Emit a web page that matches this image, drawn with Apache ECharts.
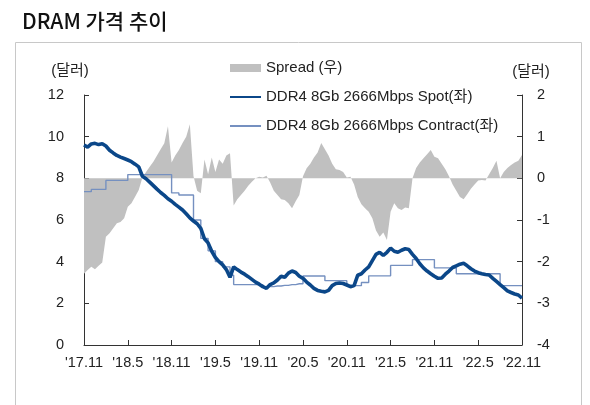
<!DOCTYPE html>
<html><head><meta charset="utf-8">
<script src="https://cdn.jsdelivr.net/npm/echarts@6/dist/echarts.min.js"></script>
<style>html,body{margin:0;padding:0;background:#fff}#c{width:590px;height:405px}</style>
</head><body><div id="c"></div>
<script>
const FONT = "'Liberation Sans','Noto Sans CJK KR',sans-serif";

// half-month dates from 2017-11 to 2022-11
const dates = [];
for (let i = 0; i < 121; i++) {
  const m = Math.floor(i / 2);
  const yr = 2017 + Math.floor((10 + m) / 12);
  const mo = (10 + m) % 12 + 1;
  dates.push(yr + '-' + String(mo).padStart(2, '0') + (i % 2 ? '-16' : '-01'));
}
const tickLabels = ["'17.11","'18.5","'18.11","'19.5","'19.11","'20.5","'20.11","'21.5","'21.11","'22.5","'22.11"];

const spot = [
  9.60,9.50,9.65,9.68,9.62,9.66,9.55,9.35,9.22,9.10,9.02,8.95,
  8.88,8.80,8.68,8.55,8.10,7.98,7.82,7.65,7.48,7.32,7.18,7.02,
  6.90,6.75,6.62,6.48,6.30,6.10,5.95,5.82,5.60,5.10,4.90,4.50,
  4.20,4.00,3.85,3.62,3.25,3.75,3.62,3.50,3.40,3.28,3.15,3.02,
  2.92,2.80,2.72,2.90,2.98,3.12,3.30,3.25,3.45,3.55,3.48,3.30,
  3.20,3.02,2.88,2.72,2.62,2.58,2.55,2.62,2.85,2.95,2.98,2.95,
  2.88,2.80,2.85,3.35,3.42,3.60,3.75,4.05,4.35,4.45,4.30,4.45,
  4.65,4.50,4.45,4.55,4.62,4.58,4.35,4.15,3.90,3.70,3.55,3.42,
  3.30,3.20,3.22,3.40,3.55,3.72,3.80,3.88,3.92,3.80,3.66,3.55,
  3.47,3.42,3.38,3.36,3.20,3.05,2.90,2.75,2.60,2.52,2.45,2.40,
  2.25
];
const contract = [
  7.36,7.36,7.47,7.47,7.47,7.47,7.90,7.90,7.90,7.90,7.90,7.90,
  8.18,8.18,8.18,8.18,8.18,8.18,8.18,8.18,8.18,8.18,8.18,8.18,
  7.30,7.30,7.20,7.20,7.20,7.20,6.00,6.00,5.12,5.12,4.52,4.52,
  4.00,4.00,3.75,3.75,3.35,2.90,2.90,2.90,2.90,2.90,2.90,2.90,
  2.90,2.80,2.80,2.80,2.83,2.83,2.86,2.86,2.90,2.90,2.94,2.94,
  3.31,3.31,3.31,3.31,3.31,3.31,3.09,3.09,3.09,3.09,3.09,3.09,
  2.85,2.85,2.85,2.85,3.00,3.00,3.32,3.32,3.32,3.32,3.32,3.32,
  3.82,3.82,3.82,3.82,3.82,3.82,4.10,4.10,4.10,4.10,4.10,4.10,
  3.70,3.70,3.70,3.70,3.70,3.70,3.42,3.42,3.42,3.42,3.42,3.42,
  3.42,3.42,3.42,3.42,3.42,3.42,2.85,2.85,2.85,2.85,2.85,2.85,
  2.85
];
const spread = [
  -2.29,-2.20,-2.12,-2.18,-2.10,-2.02,-1.40,-1.32,-1.20,-1.08,-1.05,-0.96,
  -0.68,-0.60,-0.44,-0.28,0.02,0.15,0.28,0.40,0.55,0.70,0.84,1.25,
  0.38,0.55,0.68,0.85,1.00,1.30,0.05,-0.30,-0.36,0.45,0.10,0.50,
  0.15,0.45,0.35,0.55,0.60,-0.65,-0.50,-0.40,-0.30,-0.18,-0.08,0.00,
  0.04,0.02,0.06,-0.10,-0.30,-0.40,-0.50,-0.52,-0.60,-0.72,-0.55,-0.40,
  0.05,0.24,0.35,0.50,0.62,0.85,0.70,0.55,0.35,0.22,0.20,0.15,
  0.02,0.04,-0.15,-0.45,-0.62,-0.72,-0.80,-0.96,-1.25,-1.40,-1.30,-1.48,
  -0.80,-0.60,-0.72,-0.76,-0.70,-0.72,0.00,0.25,0.38,0.48,0.58,0.68,
  0.52,0.48,0.35,0.22,0.05,-0.15,-0.30,-0.45,-0.50,-0.38,-0.25,-0.15,
  -0.05,-0.04,-0.05,0.10,0.25,0.42,0.00,0.15,0.25,0.32,0.38,0.42,
  0.56
];

const names = ['Spread (우)', 'DDR4 8Gb 2666Mbps Spot(좌)', 'DDR4 8Gb 2666Mbps Contract(좌)'];
const tickShow = (idx) => idx % 12 === 0;
const axisColor = '#333';
const SPOT_C = '#0b4789', CON_C = '#7590c0', SPR_C = '#c0c0c0';

const chart = echarts.init(document.getElementById('c'), null, {renderer: 'canvas'});
chart.setOption({
  animation: false,
  backgroundColor: '#fff',
  title: {
    text: 'DRAM 가격 추이', left: 17, top: 6,
    textStyle: {fontFamily: "'Noto Sans CJK KR',sans-serif", fontSize: 21, fontWeight: 500, color: '#111'}
  },
  graphic: [
    {type: 'rect', silent: true, shape: {x: 15.5, y: 42.5, width: 566, height: 380},
     style: {fill: 'none', stroke: '#c8c8c8', lineWidth: 1}},
    {type: 'text', silent: true, x: 70, y: 71,
     style: {text: '(달러)', fontSize: 15, fontFamily: FONT, fill: '#222', align: 'center', verticalAlign: 'middle'}},
    {type: 'text', silent: true, x: 531, y: 72,
     style: {text: '(달러)', fontSize: 15, fontFamily: FONT, fill: '#222', align: 'center', verticalAlign: 'middle'}}
  ],
  legend: {
    orient: 'vertical', left: 229, top: 60.5, padding: 0, itemWidth: 31, itemHeight: 8, itemGap: 14,
    textStyle: {fontFamily: FONT, fontSize: 15, color: '#222'},
    data: [
      {name: names[0], icon: 'rect'},
      {name: names[1], itemStyle: {opacity: 0}},
      {name: names[2], itemStyle: {opacity: 0}}
    ]
  },
  grid: {left: 84, right: 68, top: 95, bottom: 60, containLabel: false},
  xAxis: {
    type: 'category', data: dates, boundaryGap: false,
    axisLine: {lineStyle: {color: axisColor, width: 1}},
    axisTick: {inside: true, length: 5, interval: tickShow, lineStyle: {color: axisColor}},
    axisLabel: {
      interval: tickShow, margin: 11, fontFamily: FONT, fontSize: 14.5, color: '#222',
      formatter: (v, idx) => tickLabels[idx / 12] || ''
    },
    splitLine: {show: false}
  },
  yAxis: [
    {type: 'value', min: 0, max: 12, interval: 2, position: 'left',
     axisLine: {show: true, lineStyle: {color: axisColor}},
     axisTick: {show: true, inside: true, length: 5, lineStyle: {color: axisColor}},
     axisLabel: {margin: 20, fontFamily: FONT, fontSize: 14.5, color: '#222'},
     splitLine: {show: false}},
    {type: 'value', min: -4, max: 2, interval: 1, position: 'right',
     axisLine: {show: true, lineStyle: {color: axisColor}},
     axisTick: {show: true, inside: true, length: 5, lineStyle: {color: axisColor}},
     axisLabel: {margin: 15, fontFamily: FONT, fontSize: 14.5, color: '#222', align: 'left'},
     splitLine: {show: false}}
  ],
  series: [
    {name: names[0], type: 'line', yAxisIndex: 1, data: spread, symbol: 'none',
     color: SPR_C, lineStyle: {width: 0}, areaStyle: {color: SPR_C, opacity: 1}, z: 1},
    {name: names[1], type: 'line', yAxisIndex: 0, data: spot, symbol: 'none',
     color: SPOT_C, lineStyle: {width: 3.6, color: SPOT_C}, z: 3},
    {name: names[2], type: 'line', yAxisIndex: 0, data: contract, symbol: 'none', step: 'end',
     color: CON_C, lineStyle: {width: 1.4, color: CON_C}, z: 2}
  ]
});
</script>
</body></html>
